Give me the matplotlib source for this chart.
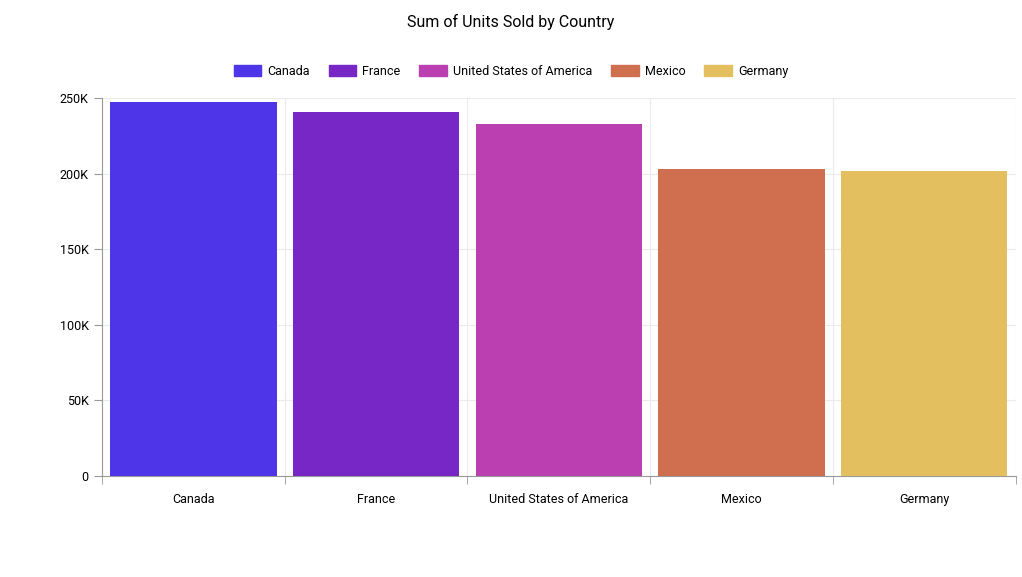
import numpy as np
import matplotlib.pyplot as plt
from matplotlib.patches import Patch

countries = ['Canada', 'France', 'United States of America', 'Mexico', 'Germany']
units = [247400, 240700, 232800, 203000, 201700]
colors = ['#4F35E8', '#7627C6', '#BC3FB2', '#D06E50', '#E3BF5F']

plt.rcParams['font.family'] = ['Roboto', 'DejaVu Sans']
fig = plt.figure(figsize=(10.22, 5.77), dpi=100)
ax = fig.add_axes([0.0998, 0.175, 0.894, 0.655])

x = np.arange(len(countries))
ax.bar(x, units, width=0.91, color=colors, zorder=3)
ax.set_xlim(-0.5, len(countries) - 0.5)
ax.set_ylim(0, 250000)
ax.set_yticks(np.arange(0, 250001, 50000))
ax.set_yticklabels(['0', '50K', '100K', '150K', '200K', '250K'], fontsize=9)
ax.set_xticks(x)
ax.set_xticklabels(countries, fontsize=9)
ax.set_xticks(np.arange(-0.5, len(countries)), minor=True)
ax.tick_params(axis='x', which='major', length=0, pad=12)
ax.tick_params(axis='x', which='minor', length=6, color='#999999')
ax.tick_params(axis='y', length=6, color='#999999')
ax.grid(axis='y', color='#ebebeb', zorder=0)
ax.grid(axis='x', which='minor', color='#ebebeb', zorder=0)
for s in ['top', 'right']:
    ax.spines[s].set_visible(False)
ax.spines['left'].set_color('#999999')
ax.spines['bottom'].set_color('#999999')

handles = [Patch(color=c, label=n) for c, n in zip(colors, countries)]
fig.legend(handles=handles, loc='center', bbox_to_anchor=(0.5, 0.876), ncol=5,
           frameon=False, fontsize=9, handlelength=2.2, handleheight=1.0,
           columnspacing=1.5, handletextpad=0.5)
fig.suptitle('Sum of Units Sold by Country', y=0.975, fontsize=11.5)

fig.savefig('out.png', dpi=100)
